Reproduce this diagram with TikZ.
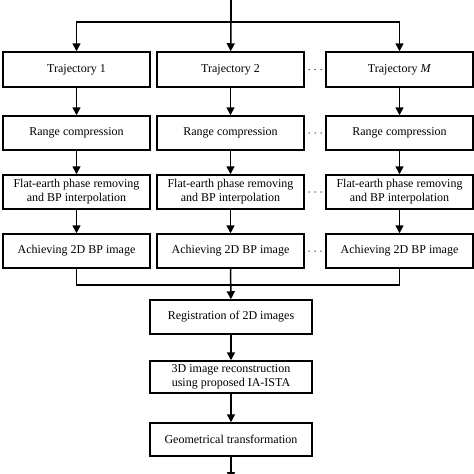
\documentclass[tikz,border=0pt]{standalone}
\usepackage{fontspec}
\setmainfont{Liberation Serif}
\usetikzlibrary{arrows.meta}
\begin{document}
\begin{tikzpicture}[x=1pt,y=-1pt,
  box/.style={draw, line width=1.5pt, minimum width=147pt, minimum height=34pt, inner sep=0pt, align=center, font=\fontsize{12}{14}\selectfont},
  cbox/.style={box, minimum width=162pt},
  link/.style={line width=1.5pt},
  arr/.style={link, -{Triangle[length=8pt,width=8pt]}},
  dot/.style={fill=black!80, radius=0.75pt}]
\useasboundingbox (0,0) rectangle (474,474);
\clip (0,0) rectangle (474,474);
% column nodes
\node[box, minimum height=35pt] (t1) at (76.5,69.5) {Trajectory 1};
\node[box, minimum height=35pt] (t2) at (230.5,69.5) {Trajectory 2};
\node[box, minimum height=35pt] (t3) at (399.5,69.5) {Trajectory \textit{M}};
\node[box] (r1) at (76.5,133) {Range compression};
\node[box] (r2) at (230.5,133) {Range compression};
\node[box] (r3) at (399.5,133) {Range compression};
\node[box] (f1) at (76.5,192) {Flat-earth phase removing\\and BP interpolation};
\node[box] (f2) at (230.5,192) {Flat-earth phase removing\\and BP interpolation};
\node[box] (f3) at (399.5,192) {Flat-earth phase removing\\and BP interpolation};
\node[box] (a1) at (76.5,251) {Achieving 2D BP image};
\node[box] (a2) at (230.5,251) {Achieving 2D BP image};
\node[box] (a3) at (399.5,251) {Achieving 2D BP image};
% dots
\foreach \yy in {69.5,133,192,251}{
  \foreach \xx in {309,315,321}{
    \fill[dot] (\xx,\yy) circle[];
  }
}
% central chain
\node[cbox] (reg) at (231,317) {Registration of 2D images};
\node[cbox, minimum height=32pt] (rec) at (231,377) {3D image reconstruction\\using proposed IA-ISTA};
\node[cbox, minimum height=33pt] (geo) at (231,439.5) {Geometrical transformation};
% coordinates
\coordinate (top) at (231,-2);
\coordinate (split) at (231,22);
\coordinate (merge) at (231,285);
\coordinate (bot) at (231,480);
% connectors
\draw[link] (top) -- (split);
\draw[arr] (split) -| (t1);
\draw[arr] (split) -- (t2);
\draw[arr] (split) -| (t3);
\draw[arr] (t1) -- (r1);
\draw[arr] (t2) -- (r2);
\draw[arr] (t3) -- (r3);
\draw[arr] (r1) -- (f1);
\draw[arr] (r2) -- (f2);
\draw[arr] (r3) -- (f3);
\draw[arr] (f1) -- (a1);
\draw[arr] (f2) -- (a2);
\draw[arr] (f3) -- (a3);
\draw[link] (a1) |- (merge);
\draw[link] (a3) |- (merge);
\draw[arr] (a2) -- (reg);
\draw[arr] (reg) -- (rec);
\draw[arr] (rec) -- (geo);
\draw[arr] (geo) -- (bot);
\end{tikzpicture}
\end{document}
